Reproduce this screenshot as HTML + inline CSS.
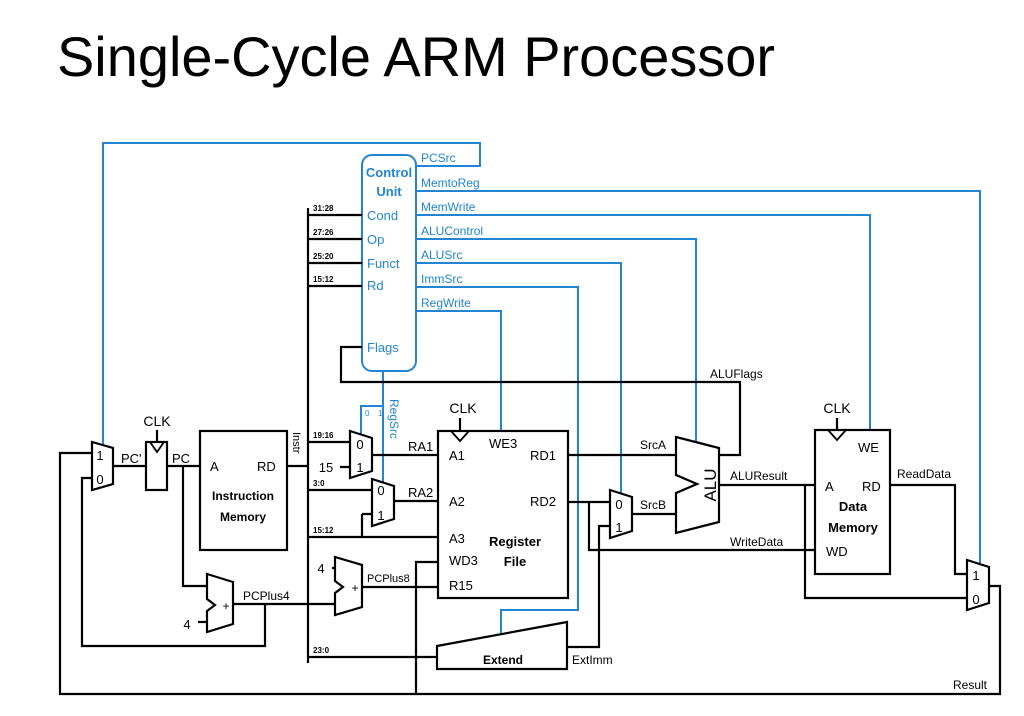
<!DOCTYPE html>
<html><head><meta charset="utf-8"><style>
html,body{margin:0;padding:0;background:#fff;}
svg{display:block;font-family:"Liberation Sans",sans-serif;}
</style></head><body>
<svg width="1024" height="716" viewBox="0 0 1024 716" xmlns="http://www.w3.org/2000/svg">
<text x="57" y="76" font-size="56" textLength="718" lengthAdjust="spacingAndGlyphs" fill="#000">Single-Cycle ARM Processor</text>

<!-- BLUE control lines -->
<g fill="none" stroke="#2384d4" stroke-width="2">
<path d="M103,444 V143 H480 V166 H416"/>
<path d="M416,191 H980 V563"/>
<path d="M416,215 H870 V431"/>
<path d="M416,239 H696 V442"/>
<path d="M416,263 H621 V493"/>
<path d="M416,287 H578 V610 H501 V634"/>
<path d="M416,311 H501 V431"/>
<path d="M383,370 V482"/>
<path d="M383,406 H361 V434"/>
<rect x="362" y="155" width="54" height="216" rx="10" ry="10"/>
</g>
<g fill="#2384d4" font-size="13">
<text x="389" y="177" text-anchor="middle" font-weight="bold">Control</text>
<text x="389" y="196" text-anchor="middle" font-weight="bold">Unit</text>
<text x="367" y="220">Cond</text>
<text x="367" y="244">Op</text>
<text x="367" y="268">Funct</text>
<text x="367" y="290">Rd</text>
<text x="367" y="352">Flags</text>
<text x="421" y="162" font-size="12">PCSrc</text>
<text x="421" y="187" font-size="12">MemtoReg</text>
<text x="421" y="211" font-size="12">MemWrite</text>
<text x="421" y="235" font-size="12">ALUControl</text>
<text x="421" y="259" font-size="12">ALUSrc</text>
<text x="421" y="283" font-size="12">ImmSrc</text>
<text x="421" y="307" font-size="12">RegWrite</text>
<text x="365" y="416" font-size="8">0</text>
<text x="378" y="416" font-size="8">1</text>
<text transform="translate(390,399) rotate(90)" font-size="12">RegSrc</text>
</g>

<!-- BLACK wires -->
<g fill="none" stroke="#000" stroke-width="2.2">
<path d="M308,208 V663"/>
<path d="M308,215 H362 M308,239 H362 M308,263 H362 M308,286 H362"/>
<path d="M362,347 H341 V382 H740 V455 H719"/>
<path d="M92,453 H60 V694 H1000 V586 H989"/>
<path d="M92,478 H82 V646 H265 V604"/>
<path d="M113,466 H146 M167,466 H200"/>
<path d="M183,466 V586 H207"/>
<path d="M198,622 H207"/>
<path d="M233,604 H335"/>
<path d="M332,568 H335"/>
<path d="M362,587 H438"/>
<path d="M438,562 H416 V694"/>
<path d="M287,466 H308"/>
<path d="M308,442 H350 M340,467 H350 M372,455 H438"/>
<path d="M308,490 H372 M362,514 H372 M362,514 V537 M308,537 H438 M394,501 H438"/>
<path d="M308,657 H437"/>
<path d="M568,455 H676"/>
<path d="M568,502 H610 M589,502 V550 H815"/>
<path d="M567,647 H599 V526 H610"/>
<path d="M632,514 H676"/>
<path d="M719,485 H815 M805,485 V598 H967"/>
<path d="M890,485 H955 V574 H967"/>
<path d="M157,430 V442 M460,418 V431 M837,418 V430"/>
</g>

<!-- components -->
<g fill="#fff" stroke="#000" stroke-width="2.2">
<polygon points="92,442 113,448 113,484 92,490"/>
<rect x="146" y="442" width="21" height="48"/>
<rect x="200" y="431" width="87" height="119"/>
<polygon points="207,574 233,582 233,624 207,632 207,611 215,605 207,599"/>
<polygon points="335,557 362,565 362,607 335,615 335,593 343,587 335,581"/>
<polygon points="350,431 372,438 372,471 350,478"/>
<polygon points="372,479 394,486 394,519 372,526"/>
<rect x="438" y="431" width="130" height="167"/>
<polygon points="437,646 567,622 567,669 437,669"/>
<polygon points="610,490 632,497 632,531 610,538"/>
<polygon points="676,437 719,448 719,522 676,533 676,493 697,484 676,475"/>
<rect x="815" y="430" width="75" height="144"/>
<polygon points="967,560 989,567 989,603 967,610"/>
</g>
<g fill="none" stroke="#000" stroke-width="1.8">
<path d="M150,442 L157,452 L164,442"/>
<path d="M451,431 L460,441 L469,431"/>
<path d="M828,430 L837,440 L846,430"/>
</g>

<!-- labels -->
<g fill="#000" font-size="13">
<text x="100" y="460" text-anchor="middle">1</text>
<text x="100" y="484" text-anchor="middle">0</text>
<text x="157" y="426" text-anchor="middle" font-size="14">CLK</text>
<text x="121" y="463">PC'</text>
<text x="172" y="463">PC</text>
<text x="210" y="471">A</text>
<text x="257" y="471">RD</text>
<text x="243" y="500" text-anchor="middle" font-weight="bold" font-size="12">Instruction</text>
<text x="243" y="521" text-anchor="middle" font-weight="bold" font-size="12">Memory</text>
<text transform="translate(293,432) rotate(90)" font-size="11">Instr</text>
<text x="226" y="610" text-anchor="middle" font-size="12">+</text>
<text x="187" y="629" text-anchor="middle">4</text>
<text x="243" y="600" font-size="12">PCPlus4</text>
<text x="321" y="573" text-anchor="middle">4</text>
<text x="355" y="592" text-anchor="middle" font-size="12">+</text>
<text x="367" y="582" font-size="11">PCPlus8</text>
<text x="360" y="449" text-anchor="middle">0</text>
<text x="360" y="472" text-anchor="middle">1</text>
<text x="326" y="472" text-anchor="middle">15</text>
<text x="381" y="495" text-anchor="middle">0</text>
<text x="381" y="520" text-anchor="middle">1</text>
<text x="408" y="451">RA1</text>
<text x="408" y="497">RA2</text>
<text x="463" y="413" text-anchor="middle" font-size="14">CLK</text>
<text x="489" y="448">WE3</text>
<text x="449" y="460">A1</text>
<text x="530" y="460">RD1</text>
<text x="449" y="506">A2</text>
<text x="530" y="506">RD2</text>
<text x="449" y="543">A3</text>
<text x="449" y="565">WD3</text>
<text x="449" y="590">R15</text>
<text x="515" y="546" text-anchor="middle" font-weight="bold">Register</text>
<text x="515" y="566" text-anchor="middle" font-weight="bold">File</text>
<text x="503" y="664" text-anchor="middle" font-weight="bold" font-size="12">Extend</text>
<text x="572" y="664" font-size="12">ExtImm</text>
<text x="619" y="509" text-anchor="middle">0</text>
<text x="619" y="532" text-anchor="middle">1</text>
<text x="640" y="449" font-size="12">SrcA</text>
<text x="640" y="509" font-size="12">SrcB</text>
<text transform="translate(716,485) rotate(-90)" text-anchor="middle" font-size="17">ALU</text>
<text x="710" y="378" font-size="12">ALUFlags</text>
<text x="730" y="480" font-size="12">ALUResult</text>
<text x="730" y="546" font-size="12">WriteData</text>
<text x="837" y="413" text-anchor="middle" font-size="14">CLK</text>
<text x="858" y="452">WE</text>
<text x="825" y="491">A</text>
<text x="862" y="491">RD</text>
<text x="853" y="511" text-anchor="middle" font-weight="bold">Data</text>
<text x="853" y="532" text-anchor="middle" font-weight="bold">Memory</text>
<text x="826" y="556">WD</text>
<text x="897" y="478" font-size="12">ReadData</text>
<text x="976" y="580" text-anchor="middle">1</text>
<text x="976" y="604" text-anchor="middle">0</text>
<text x="953" y="689" font-size="12">Result</text>
</g>
<g fill="#000" font-size="8" font-weight="bold">
<text x="313" y="211">31:28</text>
<text x="313" y="235">27:26</text>
<text x="313" y="259">25:20</text>
<text x="313" y="282">15:12</text>
<text x="313" y="438">19:16</text>
<text x="313" y="486">3:0</text>
<text x="313" y="533">15:12</text>
<text x="313" y="653">23:0</text>
</g>
</svg>
</body></html>
